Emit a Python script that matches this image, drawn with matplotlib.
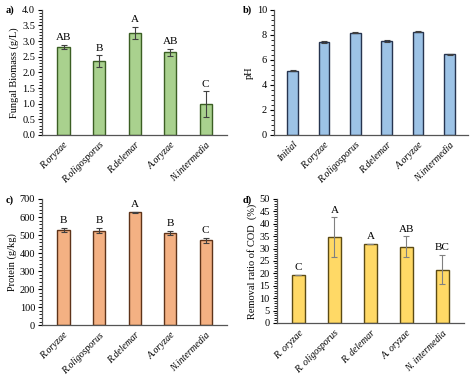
import numpy as np
import matplotlib
matplotlib.use("Agg")
import matplotlib.pyplot as plt
from matplotlib.ticker import MultipleLocator

plt.rcParams['font.family'] = ['Liberation Serif', 'DejaVu Serif']
plt.rcParams['font.size'] = 7

# data
fungi = ["R.oryzae", "R.oligosporus", "R.delemar", "A.oryzae", "N.intermedia"]
fungi_sp = ["R. oryzae", "R. oligosporus", "R. delemar", "A. oryzae", "N. intermedia"]
ph_labels = ["Initial"] + fungi

biomass = [2.82, 2.36, 3.27, 2.65, 0.98]
biomass_err = [0.07, 0.19, 0.19, 0.11, 0.41]
biomass_let = ["AB", "B", "A", "AB", "C"]

ph = [5.15, 7.40, 8.15, 7.50, 8.25, 6.45]
ph_err = [0.02, 0.07, 0.04, 0.05, 0.02, 0.03]

protein = [527, 525, 627, 512, 470]
protein_err = [12, 15, 3, 12, 16]
protein_let = ["B", "B", "A", "B", "C"]

cod = [19.5, 34.7, 32.0, 30.7, 21.5]
cod_err = [0.0, 8.0, 0.0, 4.2, 6.0]
cod_let = ["C", "A", "A", "AB", "BC"]

fig = plt.figure(figsize=(4.74, 3.79), dpi=100)


def panel(rect, labels, vals, errs, face, edge, ylim, major, minor, ylabel,
          letters=None, ecolor='#404040', tag='', tag_xy=(0, 0)):
    ax = fig.add_axes(rect)
    x = np.arange(len(vals))
    ax.bar(x, vals, width=0.34, color=face, edgecolor=edge, linewidth=1.0,
           yerr=errs, ecolor=ecolor, capsize=2, error_kw=dict(elinewidth=0.8, capthick=0.8))
    ax.set_xlim(-0.6, len(vals) - 0.4)
    ax.set_ylim(*ylim)
    ax.yaxis.set_major_locator(MultipleLocator(major))
    ax.yaxis.set_minor_locator(MultipleLocator(minor))
    ax.set_xticks(x)
    ax.set_xticklabels(labels, rotation=45, ha='right', rotation_mode='anchor',
                       style='italic', fontsize=7)
    ax.tick_params(axis='x', length=0, pad=4)
    ax.tick_params(axis='y', which='major', length=3, width=0.8, labelsize=7.5, pad=2)
    ax.tick_params(axis='y', which='minor', length=2, width=0.6)
    for s in ['top', 'right']:
        ax.spines[s].set_visible(False)
    for s in ['left', 'bottom']:
        ax.spines[s].set_color('#555555')
        ax.spines[s].set_linewidth(0.9)
    ax.set_ylabel(ylabel, fontsize=7.5, labelpad=2)
    if letters:
        off = (ylim[1] - ylim[0]) * 0.02
        for xi, v, e, t in zip(x, vals, errs, letters):
            ax.text(xi, v + e + off, t, ha='center', va='bottom', fontsize=8)
    fig.text(tag_xy[0], tag_xy[1], tag, fontsize=7.5,
             fontweight='bold', va='center', ha='left')
    return ax


panel([0.089, 0.644, 0.39, 0.33], fungi, biomass, biomass_err, '#a9d18e', '#3b5e23',
      (0, 4.0), 0.5, 0.1, 'Fungal Biomass (g/L)', biomass_let,
      tag='a)', tag_xy=(0.012, 0.972))
ax_b = panel([0.578, 0.644, 0.41, 0.33], ph_labels, ph, ph_err, '#9dc3e6', '#26344f',
             (0, 10), 2, 0.4, 'pH', tag='b)', tag_xy=(0.513, 0.972))
ax_b.yaxis.set_major_formatter(matplotlib.ticker.FormatStrFormatter('%d'))
panel([0.089, 0.142, 0.39, 0.333], fungi, protein, protein_err, '#f4b183', '#5e3319',
      (0, 700), 100, 20, 'Protein (g/kg)', protein_let,
      tag='c)', tag_xy=(0.012, 0.473))
panel([0.584, 0.148, 0.395, 0.327], fungi_sp, cod, cod_err, '#ffd966', '#5b4a14',
      (0, 50), 5, 1, 'Removal ratio of COD  (%)', cod_let, ecolor='#808080',
      tag='d)', tag_xy=(0.511, 0.473))

fig.savefig('out.png', dpi=100)
